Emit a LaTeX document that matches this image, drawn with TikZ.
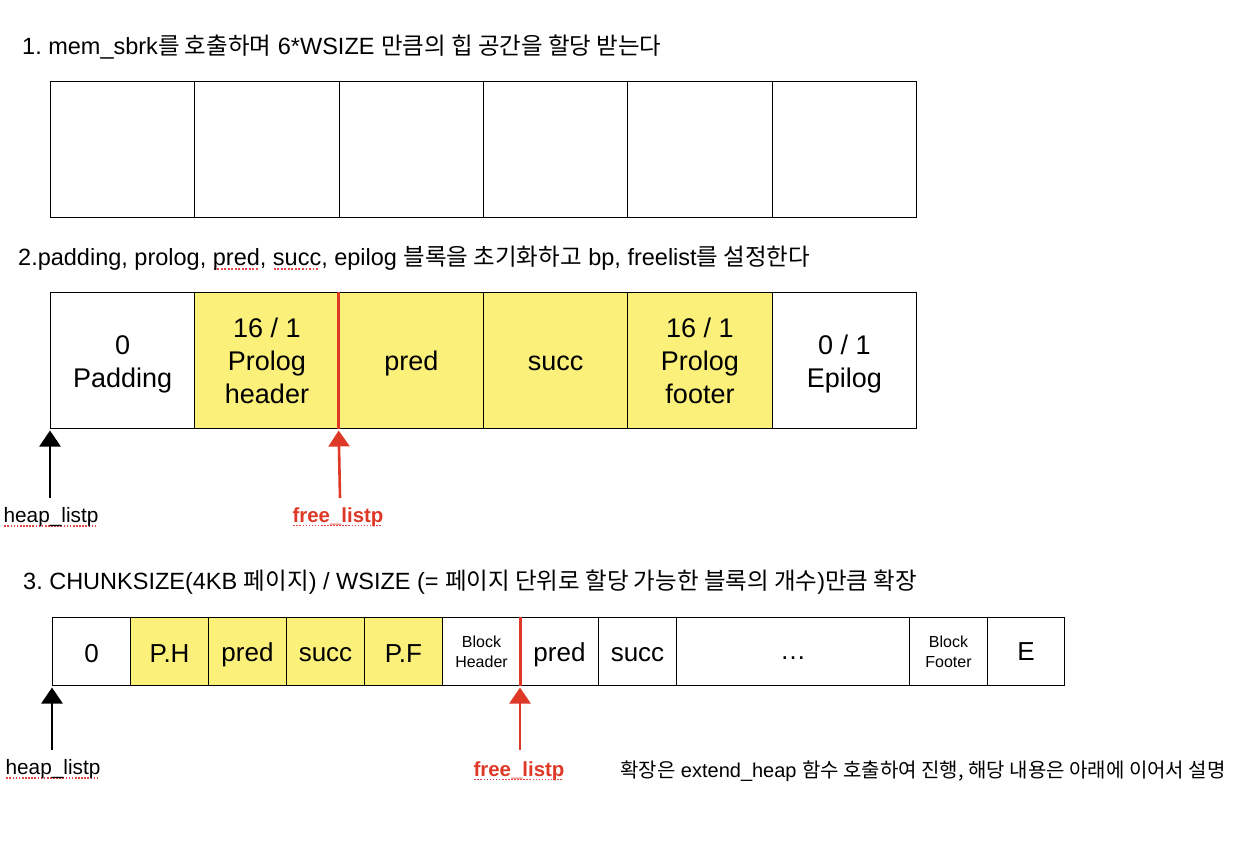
\documentclass[tikz,border=0pt]{standalone}
\usepackage{fontspec}
\setmainfont{Liberation Sans}
\newfontfamily\kr{Noto Sans CJK KR}
\usetikzlibrary{arrows.meta}
\definecolor{yel}{RGB}{251,240,122}
\definecolor{redp}{RGB}{222,56,38}
\definecolor{sqred}{RGB}{232,70,70}
\newsavebox\sqbox
\newcommand\sqline[1]{\sbox\sqbox{#1}\rlap{\textcolor{sqred}{\hbox to \wd\sqbox{\leaders\hbox to 0.15em{\hss\rule[-0.2em]{0.08em}{0.08em}\hss}\hfill}}}\usebox\sqbox}
\newcommand\dn[2]{\raisebox{-#1}[\height][\depth]{#2}}
\begin{document}
\frenchspacing
\begin{tikzpicture}[x=1pt,y=-1pt,
  cellA/.style={draw=black,line width=1pt,anchor=north west,inner sep=0pt,
    minimum width=144.33pt,minimum height=136pt,align=center,
    font=\fontsize{27}{33}\selectfont},
  cellB/.style={draw=black,line width=1pt,anchor=north west,inner sep=0pt,
    minimum width=78pt,minimum height=68pt,align=center,
    font=\fontsize{26}{32}\selectfont},
  small/.style={font=\fontsize{16}{20}\selectfont},
  yfill/.style={fill=yel},
  title/.style={anchor=base west,inner sep=0pt,font=\fontsize{23.5}{27}\selectfont},
  ptrlabel/.style={inner sep=0pt,font=\fontsize{20.8}{24}\selectfont},
  redlabel/.style={ptrlabel,text=redp,font=\fontsize{20.4}{24}\selectfont\bfseries},
  blkarrow/.style={draw=black,line width=2.6pt,-{Triangle[length=16pt,width=21pt]}},
  redarrow/.style={draw=redp,line width=2.6pt,-{Triangle[length=16pt,width=21pt]}},
  redline/.style={draw=redp,line width=3pt},
]
\useasboundingbox (0,0) rectangle (1260,844);

% ---- titles
\node[title] (t1) at (22,54) {1. mem\_sbrk{\kr 를 호출하며} 6*WSIZE {\kr 만큼의 힙 공간을 할당 받는다}};
\node[title] (t2) at (18,265) {2.padding, prolog, \sqline{pred}, \sqline{succ}, epilog {\kr 블록을 초기화하고} bp, freelist{\kr 를 설정한다}};
\node[title] (t3) at (23,589) {3. CHUNKSIZE(4KB {\kr 페이지}) / WSIZE (= {\kr 페이지 단위로 할당 가능한 블록의 개수})\kr 만큼 확장};

% ---- row 1
\node[cellA] (a1) at (50,81) {};
\node[cellA] (a2) at (194.33,81) {};
\node[cellA] (a3) at (338.67,81) {};
\node[cellA] (a4) at (483,81) {};
\node[cellA] (a5) at (627.33,81) {};
\node[cellA] (a6) at (771.67,81) {};

% ---- row 2
\node[cellA] (b1) at (50,292) {\dn{4pt}{0}\\\dn{4pt}{Padding}};
\node[cellA,yfill] (b2) at (194.33,292) {16 / 1\\Prolog\\header};
\node[cellA,yfill] (b3) at (338.67,292) {\dn{3pt}{pred}};
\node[cellA,yfill] (b4) at (483,292) {\dn{3pt}{succ}};
\node[cellA,yfill] (b5) at (627.33,292) {16 / 1\\Prolog\\footer};
\node[cellA] (b6) at (771.67,292) {\dn{4pt}{0 / 1}\\\dn{4pt}{Epilog}};
\draw[redline] (b3.north west) -- (b3.south west);

\coordinate (hb) at (50,498);
\coordinate (fb) at (340,498);
\draw[blkarrow] (hb) -- ([yshift=-1.5pt]b1.south west);
\draw[redarrow] (fb) -- ([yshift=-1.5pt]b3.south west);
\node[ptrlabel] (hl2) at (51,517) {\sqline{heap\_listp}};
\node[redlabel] (fl2) at (338,517) {\sqline{free\_listp}};

% ---- row 3
\node[cellB] (c1) at (52,617) {\dn{2pt}{0}};
\node[cellB,yfill] (c2) at (130,617) {\dn{2pt}{P.H}};
\node[cellB,yfill] (c3) at (208,617) {\dn{3pt}{pred}};
\node[cellB,yfill] (c4) at (286,617) {\dn{3pt}{succ}};
\node[cellB,yfill] (c5) at (364,617) {\dn{2pt}{P.F}};
\node[cellB,small] (c6) at (442,617) {Block\\Header};
\node[cellB] (c7) at (520,617) {\dn{3pt}{pred}};
\node[cellB] (c8) at (598,617) {\dn{3pt}{succ}};
\node[cellB,minimum width=233pt] (c9) at (676,617) {\dn{7pt}{\dots}};
\node[cellB,small] (c10) at (909,617) {Block\\Footer};
\node[cellB,minimum width=77pt] (c11) at (987,617) {E};
\draw[redline] (c7.north west) -- (c7.south west);

\coordinate (hc) at (52,750);
\coordinate (fc) at (520,750);
\draw[blkarrow] (hc) -- ([yshift=-1.5pt]c1.south west);
\draw[redarrow] (fc) -- ([yshift=-1.5pt]c7.south west);
\node[ptrlabel] (hl3) at (53,769) {\sqline{heap\_listp}};
\node[redlabel] (fl3) at (519,771) {\sqline{free\_listp}};

\node[anchor=west,inner sep=0pt,font=\fontsize{20}{24}\selectfont] (note) at (620,771)
  {{\kr 확장은} extend\_heap {\kr 함수 호출하여 진행, 해당 내용은 아래에 이어서 설명}};
\end{tikzpicture}
\end{document}
